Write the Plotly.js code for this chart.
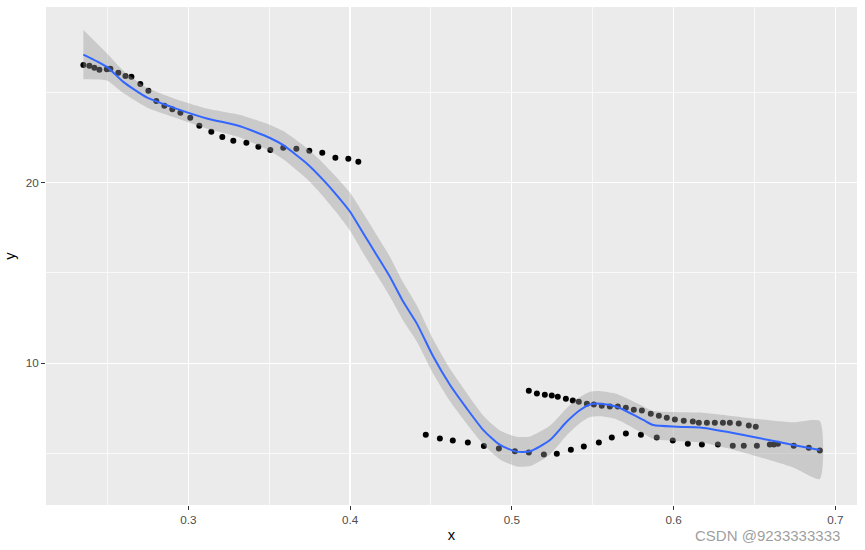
<!DOCTYPE html>
<html>
<head>
<meta charset="utf-8">
<script src="https://cdn.plot.ly/plotly-3.0.1.min.js"></script>
<style>html,body{margin:0;padding:0;background:#fff;}#chart{width:865px;height:550px;}</style>
</head>
<body>
<div id="chart"></div>
<script>
// Points: three runs of observations
const xA = [0.2351,0.2388,0.2419,0.2450,0.2496,0.2518,0.2567,0.2611,0.2648,0.2703,0.2753,0.2802,0.2852,0.2901,0.2951,0.3012,0.3068,0.3142,0.3210,0.3278,0.3359,0.3433,0.3507,0.3587,0.3668,0.3748,0.3828,0.3909,0.3989,0.4051];
const yA = [26.50,26.45,26.34,26.23,26.26,26.28,26.06,25.89,25.84,25.45,25.07,24.51,24.24,24.05,23.85,23.58,23.13,22.80,22.52,22.30,22.19,21.97,21.80,21.92,21.86,21.75,21.64,21.36,21.31,21.14];
const xB = [0.4468,0.4555,0.4635,0.4728,0.4827,0.4920,0.5019,0.5105,0.5198,0.5278,0.5365,0.5445,0.5538,0.5618,0.5705,0.5798,0.5896,0.5995,0.6088,0.6175,0.6274,0.6366,0.6434,0.6515,0.6595,0.6620,0.6645,0.6743,0.6836,0.6904];
const yB = [6.06,5.84,5.73,5.62,5.43,5.29,5.14,5.07,4.96,5.01,5.23,5.40,5.62,5.90,6.12,6.06,5.90,5.73,5.56,5.51,5.51,5.45,5.45,5.45,5.51,5.51,5.56,5.45,5.34,5.18];
const xC = [0.5105,0.5155,0.5204,0.5247,0.5284,0.5334,0.5377,0.5414,0.5464,0.5507,0.5556,0.5606,0.5655,0.5705,0.5754,0.5804,0.5859,0.5909,0.5958,0.6008,0.6063,0.6119,0.6156,0.6206,0.6255,0.6305,0.6348,0.6403,0.6465,0.6508];
const yC = [8.49,8.33,8.27,8.22,8.16,8.05,7.94,7.88,7.77,7.72,7.66,7.61,7.61,7.55,7.44,7.39,7.22,7.11,7.00,6.89,6.83,6.78,6.72,6.72,6.72,6.72,6.72,6.67,6.56,6.50];

// Smoother (loess) curve and its confidence band
const fitX = [0.2351,0.2496,0.2598,0.2743,0.2907,0.3114,0.3320,0.3505,0.3587,0.3732,0.3835,0.3917,0.4000,0.4082,0.4165,0.4247,0.4329,0.4412,0.4515,0.4618,0.4721,0.4824,0.4927,0.5030,0.5113,0.5236,0.5339,0.5422,0.5483,0.5545,0.5649,0.5813,0.5875,0.6020,0.6164,0.6329,0.6534,0.6740,0.6904];
const fitY = [27.07,26.39,25.56,24.70,24.14,23.54,23.11,22.46,22.06,21.05,20.13,19.30,18.38,17.18,15.98,14.78,13.40,12.21,10.36,8.80,7.51,6.31,5.49,5.12,5.14,5.76,6.77,7.42,7.73,7.77,7.60,6.87,6.59,6.50,6.46,6.22,5.86,5.49,5.21];
const fitUpper = [28.43,27.14,26.18,25.25,24.66,24.09,23.73,23.18,22.84,21.90,21.05,20.28,19.43,18.28,17.08,15.88,14.45,13.21,11.31,9.70,8.36,7.11,6.29,5.94,5.96,6.56,7.52,8.14,8.43,8.47,8.30,7.62,7.36,7.30,7.28,7.12,6.91,6.74,6.81];
const fitLower = [25.71,25.64,24.94,24.15,23.62,22.99,22.49,21.74,21.28,20.20,19.21,18.32,17.33,16.08,14.88,13.68,12.35,11.21,9.41,7.90,6.66,5.51,4.69,4.30,4.32,4.96,6.02,6.70,7.03,7.07,6.90,6.12,5.82,5.70,5.64,5.32,4.81,4.24,3.61];

const xTicks = [0.3,0.4,0.5,0.6,0.7];
const yTicks = [10,20];

const ptX = xA.concat(xB, xC);
const ptY = yA.concat(yB, yC);

const bandX = fitX.concat(fitX.slice().reverse());
const bandY = fitUpper.concat(fitLower.slice().reverse());

const traces = [
  {x: ptX, y: ptY, type: 'scatter', mode: 'markers',
   marker: {color: '#000000', size: 6}, hoverinfo: 'x+y', showlegend: false},
  {x: bandX, y: bandY, type: 'scatter', mode: 'lines', fill: 'toself',
   fillcolor: 'rgba(153,153,153,0.4)', line: {width: 0, shape: 'spline', smoothing: 0.6},
   hoverinfo: 'skip', showlegend: false},
  {x: fitX, y: fitY, type: 'scatter', mode: 'lines',
   line: {color: '#3366FF', width: 2, shape: 'spline', smoothing: 0.6}, showlegend: false}
];

const axisCommon = {
  showgrid: true, gridcolor: '#FFFFFF', gridwidth: 1.3,
  zeroline: false, showline: false,
  ticks: 'outside', ticklen: 4, tickwidth: 1, tickcolor: '#333333',
  tickfont: {family: 'Liberation Sans, Arial, sans-serif', size: 11.7, color: '#4D4D4D'}
};

const layout = {
  width: 865, height: 550,
  margin: {l: 46, r: 8, t: 7, b: 45},
  paper_bgcolor: '#FFFFFF', plot_bgcolor: '#EBEBEB',
  font: {family: 'Liberation Sans, Arial, sans-serif'},
  xaxis: Object.assign({}, axisCommon, {
    range: [0.2120, 0.7134], tickmode: 'array', tickvals: xTicks,
    ticktext: xTicks.map(v => v.toFixed(1)),
    minor: {dtick: 0.05, tick0: 0, showgrid: true, gridcolor: '#FFFFFF', gridwidth: 0.7, ticks: ''},
    title: {text: 'x', font: {size: 14.7, color: '#000000'}, standoff: 4}
  }),
  yaxis: Object.assign({}, axisCommon, {
    range: [2.17, 29.70], tickmode: 'array', tickvals: yTicks,
    ticktext: yTicks.map(String),
    minor: {dtick: 5, tick0: 0, showgrid: true, gridcolor: '#FFFFFF', gridwidth: 0.7, ticks: ''},
    title: {text: 'y', font: {size: 14.7, color: '#000000'}, standoff: 6}
  }),
  annotations: [{
    text: 'CSDN @9233333333', xref: 'paper', yref: 'paper', x: 0.982, y: -0.061,
    xanchor: 'right', yanchor: 'middle', showarrow: false,
    font: {family: 'Liberation Sans, Arial, sans-serif', size: 15, color: 'rgba(140,140,140,0.85)'}
  }]
};

Plotly.newPlot('chart', traces, layout, {displayModeBar: false, staticPlot: true});
</script>
</body>
</html>
